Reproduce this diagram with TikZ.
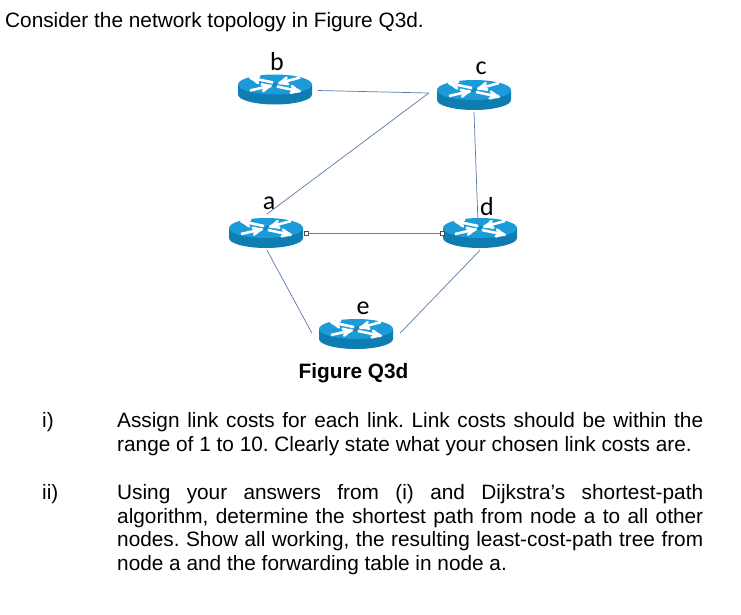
\documentclass[tikz,border=0pt]{standalone}
\usepackage{fontspec}
\setmainfont{Liberation Sans}
\newfontfamily\tagfont{Carlito}
\usepackage{tikz}
\usetikzlibrary{arrows,positioning}
\definecolor{routertop}{HTML}{1C9BD8}
\definecolor{routerside}{HTML}{0E7DB2}
\definecolor{linkblue}{HTML}{5A78A8}
\definecolor{linkteal}{HTML}{3A8FB0}
\newcommand{\fullline}[1]{\makebox[586pt][s]{#1}}
\tikzset{
    router/.style={
           rectangle,
           minimum width=74pt,
           minimum height=30pt,
           inner sep=0pt,
           path picture={
             \fill[routerside] (-37,5) -- (-37,-5) arc[start angle=180,end angle=360,x radius=37,y radius=10] -- (37,5) -- cycle;
             \fill[routertop] (0,5) ellipse[x radius=37,y radius=10];
             \draw[white,line width=2.6pt,-stealth'] (-2,7) -- (-26,12);
             \draw[white,line width=2.6pt,-stealth'] (-25,-1) -- (-3,4);
             \draw[white,line width=2.6pt,-stealth'] (25,12) -- (3,6);
             \draw[white,line width=2.6pt,-stealth'] (2,3) -- (26,-2);
             \draw[black!70,line width=.6pt] (-2,3) -- (2,7);
           },
           },
    tag/.style={font=\tagfont\fontsize{26}{26}\selectfont,inner sep=0pt},
    para/.style={font=\frenchspacing\fontsize{20.8}{23.8}\selectfont,inner sep=0pt,anchor=north west,align=left},
    handle/.style={rectangle,draw=black!70,fill=white,line width=.4pt,inner sep=0pt,minimum size=3.5pt},
}
\begin{document}
\begin{tikzpicture}[
  x=1pt,y=1pt,
  node distance=100pt,
  link/.style={draw=linkblue,line width=.7pt},
  mainlink/.style={draw=linkteal,line width=.9pt}]
\useasboundingbox (0,0) rectangle (741,-614);
% routers
\node[router](b) at (275,-89.5){};
\node[router,right of=b,node distance=199pt,yshift=-5.5pt](c){};
\node[router,below of=b,node distance=143.5pt,xshift=-9pt](a){};
\node[router,right of=a,node distance=214pt](d){};
\node[router,below of=a,node distance=101pt,xshift=90pt](e){};
% router names
\node[tag,above of=b,node distance=28pt,xshift=2pt](bname){b};
\node[tag,above of=c,node distance=27pt,xshift=7pt](cname){c};
\node[tag,above of=a,node distance=30pt,xshift=3pt](aname){a};
\node[tag,above of=d,node distance=26pt,xshift=7pt](dname){d};
\node[tag,above of=e,node distance=26pt,xshift=7pt](ename){e};
% link ends
\node[handle,right of=a,node distance=40pt](ahandle){};
\node[handle,left of=d,node distance=38pt](dhandle){};
\coordinate (bport) at ([xshift=6pt,yshift=-1pt]b.east);
\coordinate (cport) at ([xshift=-8pt,yshift=2pt]c.west);
\coordinate (ctop) at ([yshift=-2pt]c.south);
\coordinate (dtop) at ([xshift=-2pt,yshift=10pt]d.center);
\coordinate (aup) at ([xshift=1pt,yshift=19pt]a.center);
\coordinate (adown) at ([xshift=1pt,yshift=-2pt]a.south);
\coordinate (ddown) at ([yshift=-2pt]d.south);
\coordinate (eleft) at ([xshift=-7pt,yshift=1pt]e.west);
\coordinate (eright) at ([xshift=7pt,yshift=1pt]e.east);

\path (bport) edge[link] (cport)
      (aup) edge[link] (cport)
      (ctop) edge[link] (dtop)
      (ahandle) edge[mainlink] (dhandle)
      (adown) edge[link] (eleft)
      (ddown) edge[link] (eright);
% texts
\node[font=\frenchspacing\fontsize{20.8}{23.8}\selectfont,inner sep=0pt,anchor=base west](intro) at (5,-27){Consider the network topology in Figure Q3d.};
\node[font=\bfseries\fontsize{20.8}{23.8}\selectfont,inner sep=0pt,below of=e,node distance=39pt,xshift=-2.5pt](caption){Figure Q3d};
\node[para](firstmark) at (42,-412){i)};
\node[para](firsttext) at ([xshift=75pt]firstmark.north west){\fullline{Assign link costs for each link. Link costs should be within the}\\range of 1 to 10. Clearly state what your chosen link costs are.};
\node[para](secondmark) at ([yshift=-72pt]firstmark.north west){ii)};
\node[para](secondtext) at ([xshift=75pt]secondmark.north west){\fullline{Using your answers from (i) and Dijkstra's shortest-path}\\\fullline{algorithm, determine the shortest path from node a to all other}\\\fullline{nodes. Show all working, the resulting least-cost-path tree from}\\node a and the forwarding table in node a.};
\end{tikzpicture}
\end{document}
